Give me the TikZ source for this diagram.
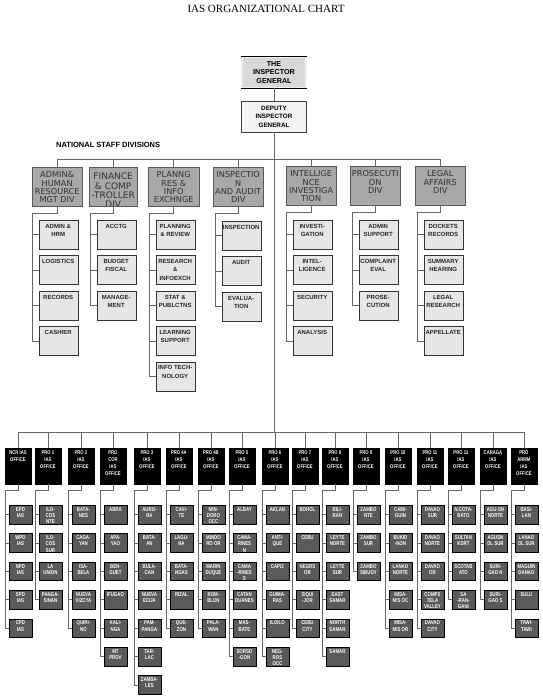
\documentclass[tikz,border=0pt]{standalone}
\usepackage{fontspec}
\setmainfont{Liberation Serif}
\setsansfont{Liberation Sans}
\newfontfamily\divfont{DejaVu Sans}
\newfontfamily\narrowfont[FakeStretch=0.78]{Liberation Sans}
\usepackage{xcolor}
\definecolor{IGFill}{HTML}{D9D9D9}
\definecolor{DeputyFill}{HTML}{F3F3F3}
\definecolor{DivFill}{HTML}{A8A8A8}
\definecolor{SubFill}{HTML}{E6E6E6}
\definecolor{ProvFill}{HTML}{5A5A5A}
\definecolor{LineGray}{HTML}{666666}
\usepackage{tikz}
\usetikzlibrary{positioning}
\hyphenpenalty=10000
\exhyphenpenalty=10000

\begin{document}
\begin{tikzpicture}[
  x=1pt, y=-1pt,
  conn/.style={draw=LineGray, line width=0.7pt},
  toptext/.style n args={3}{
    path picture={
      \node[anchor=north, align=center, inner sep=0pt, font=#1]
        at ([yshift=-#2]path picture bounding box.north) {#3};
    }
  },
  ighead/.style={
    draw=black, line width=0.6pt,
    double=IGFill!45!white, double distance=1.1pt,
    fill=IGFill,
    minimum width=64pt, minimum height=30.5pt,
    align=center, inner sep=0pt,
    font=\sffamily\bfseries\fontsize{7.2}{8.5}\selectfont
  },
  deputy/.style={
    draw=black!75, fill=DeputyFill,
    minimum width=65pt, minimum height=31pt,
    align=center, inner sep=0pt,
    font=\sffamily\bfseries\fontsize{6.3}{8.7}\selectfont
  },
  divbase/.style={
    draw=black!65, fill=DivFill, anchor=north west,
    minimum width=50pt, minimum height=39pt, inner sep=0pt
  },
  divhead/.style={divbase,
    toptext={\divfont\fontsize{8.2}{8.3}\selectfont\color{black!80}}{0.5pt}{#1}},
  bigdivhead/.style={divbase,
    toptext={\divfont\fontsize{9}{9.2}\selectfont\color{black!80}}{3.5pt}{#1}},
  natsub/.style={
    draw=black!80, fill=SubFill, anchor=north west, inner sep=0pt,
    font=\sffamily\bfseries\fontsize{6}{8.2}\selectfont\color{black!85},
    node contents={\parbox[c][29pt][t]{39pt}{\centering\vspace*{4pt}#1}}
  },
  reghead/.style={
    draw=black, fill=black, anchor=north west, inner sep=0pt,
    font=\narrowfont\bfseries\fontsize{5.4}{6.7}\selectfont\color{white},
    node contents={\parbox[c][36pt][t]{25.5pt}{\centering\vspace*{3pt}#1}}
  },
  provbox/.style={
    draw=black, fill=ProvFill, anchor=north west, inner sep=0pt,
    font=\narrowfont\bfseries\fontsize{5.6}{6.2}\selectfont\color{white},
    node contents={\parbox[c][18.5pt][t]{22.5pt}{\centering\vspace*{2.2pt}#1}}
  }
]
\useasboundingbox (0,0) rectangle (542,698);

% =========================================================
% TOP OFFICES
% =========================================================

\node[font=\fontsize{11}{13}\selectfont] (title) at (266,9)
{IAS ORGANIZATIONAL CHART};

\node[ighead] (ig) at (274,72.5)
{THE\\INSPECTOR\\GENERAL};

\node[deputy, below=13pt of ig] (dig)
{DEPUTY\\INSPECTOR\\GENERAL};

\node[anchor=west, inner sep=0pt,
      font=\sffamily\bfseries\fontsize{7.5}{9}\selectfont] (natlabel) at (56,145)
{NATIONAL STAFF DIVISIONS};

\coordinate (divbus) at (274,159);
\coordinate (regbus) at (274,432);

\draw[conn] (ig) -- (dig);
\draw[conn] (dig) -- (divbus);
\draw[conn] (divbus) -- (regbus);

% =========================================================
% NATIONAL STAFF DIVISIONS
% =========================================================

\node[divhead={ADMIN\&\\HUMAN\\RESOURCE\\MGT DIV}] (admin) at (32,167) {};
\node[bigdivhead={FINANCE\\\& COMP\\-TROLLER\\DIV}, minimum width=48pt] (fin) at (89,167) {};
\node[divhead={PLANNG\\RES \&\\INFO\\EXCHNGE}, minimum width=51pt] (plan) at (148,167) {};
\node[divhead={INSPECTIO\\N\\AND AUDIT\\DIV}] (insp) at (213,167) {};
\node[divhead={INTELLIGE\\NCE\\INVESTIGA\\TION}] (intel) at (286,166) {};
\node[divhead={PROSECUTI\\ON\\DIV\\\rule{0pt}{6pt}}] (prosec) at (350,166) {};
\node[divhead={LEGAL\\AFFAIRS\\DIV\\\rule{0pt}{6pt}}] (legal) at (415,166) {};

\draw[conn] (admin.north) -- (admin.north |- divbus)
  -- (legal.north |- divbus) -- (legal.north);
\foreach \dv in {fin,plan,insp,intel,prosec}
  \draw[conn] (\dv.north) -- (\dv.north |- divbus);

% sections under each division
\node (adm1) at (38.5,220) [natsub={ADMIN \&\\HRM}];
\node (adm2) [natsub={LOGISTICS}, below=6pt of adm1];
\node (adm3) [natsub={RECORDS}, below=6pt of adm2];
\node (adm4) [natsub={CASHIER}, below=6pt of adm3];

\node (fin1) at (96.5,220) [natsub={ACCTG}];
\node (fin2) [natsub={BUDGET\\FISCAL}, below=6pt of fin1];
\node (fin3) [natsub={MANAGE-\\MENT}, below=6pt of fin2];

\node (pln1) at (155.5,220) [natsub={PLANNING\\\& REVIEW}];
\node (pln2) [natsub={RESEARCH\\\&\\INFOEXCH}, below=6pt of pln1];
\node (pln3) [natsub={STAT \&\\PUBLCTNS}, below=6pt of pln2];
\node (pln4) [natsub={LEARNING\\SUPPORT}, below=6pt of pln3];
\node (pln5) [natsub={INFO TECH-\\NOLOGY}, below=6pt of pln4];

\node (ins1) at (221.5,221) [natsub={INSPECTION}];
\node (ins2) [natsub={AUDIT}, below=6pt of ins1];
\node (ins3) [natsub={EVALUA-\\TION}, below=6pt of ins2];

\node (int1) at (292.5,220) [natsub={INVESTI-\\GATION}];
\node (int2) [natsub={INTEL-\\LIGENCE}, below=6pt of int1];
\node (int3) [natsub={SECURITY}, below=6pt of int2];
\node (int4) [natsub={ANALYSIS}, below=6pt of int3];

\node (pros1) at (358.5,220) [natsub={ADMIN\\SUPPORT}];
\node (pros2) [natsub={COMPLAINT\\EVAL}, below=6pt of pros1];
\node (pros3) [natsub={PROSE-\\CUTION}, below=6pt of pros2];

\node (leg1) at (423.5,220) [natsub={DOCKETS\\RECORDS}];
\node (leg2) [natsub={SUMMARY\\HEARING}, below=6pt of leg1];
\node (leg3) [natsub={LEGAL\\RESEARCH}, below=6pt of leg2];
\node (leg4) [natsub={APPELLATE}, below=6pt of leg3];

\draw[conn] (admin.south) -- ++(0,7) -| ([xshift=-6.5pt]adm4.west) -- (adm4.west);
\foreach \k in {1,2,3} \draw[conn] (adm\k.west) -- ++(-6.5,0);
\draw[conn] (fin.south) -- ++(0,7) -| ([xshift=-6.5pt]fin3.west) -- (fin3.west);
\foreach \k in {1,2} \draw[conn] (fin\k.west) -- ++(-6.5,0);
\draw[conn] (plan.south) -- ++(0,7) -| ([xshift=-6.5pt]pln5.west) -- (pln5.west);
\foreach \k in {1,2,3,4} \draw[conn] (pln\k.west) -- ++(-6.5,0);
\draw[conn] (insp.south) -- ++(0,7) -| ([xshift=-6.5pt]ins3.west) -- (ins3.west);
\foreach \k in {1,2} \draw[conn] (ins\k.west) -- ++(-6.5,0);
\draw[conn] (intel.south) -- ++(0,7) -| ([xshift=-6.5pt]int4.west) -- (int4.west);
\foreach \k in {1,2,3} \draw[conn] (int\k.west) -- ++(-6.5,0);
\draw[conn] (prosec.south) -- ++(0,7) -| ([xshift=-6.5pt]pros3.west) -- (pros3.west);
\foreach \k in {1,2} \draw[conn] (pros\k.west) -- ++(-6.5,0);
\draw[conn] (legal.south) -- ++(0,7) -| ([xshift=-6.5pt]leg4.west) -- (leg4.west);
\foreach \k in {1,2,3} \draw[conn] (leg\k.west) -- ++(-6.5,0);

% =========================================================
% REGIONAL IAS OFFICES
% =========================================================

\node (ncr) at (5,448) [reghead={NCR IAS\\OFFICE}];
\node (p1) at (35,448) [reghead={PRO 1\\IAS\\OFFICE}];
\node (p2) at (68,448) [reghead={PRO 2\\IAS\\OFFICE}];
\node (cor) at (100,448) [reghead={PRO\\COR\\IAS\\OFFICE}];
\node (p3) at (134,448) [reghead={PRO 3\\IAS\\OFFICE}];
\node (p4a) at (166,448) [reghead={PRO 4A\\IAS\\OFFICE}];
\node (p4b) at (198,448) [reghead={PRO 4B\\IAS\\OFFICE}];
\node (p5) at (229,448) [reghead={PRO 5\\IAS\\OFFICE}];
\node (p6) at (262,448) [reghead={PRO 6\\IAS\\OFFICE}];
\node (p7) at (292,448) [reghead={PRO 7\\IAS\\OFFICE}];
\node (p8) at (322,448) [reghead={PRO 8\\IAS\\OFFICE}];
\node (p9) at (353,448) [reghead={PRO 9\\IAS\\OFFICE}];
\node (p10) at (385,448) [reghead={PRO 10\\IAS\\OFFICE}];
\node (p11) at (417,448) [reghead={PRO 11\\IAS\\OFFICE}];
\node (p12) at (448,448) [reghead={PRO 12\\IAS\\OFFICE}];
\node (car) at (480,448) [reghead={CARAGA\\IAS\\OFFICE}];
\node (armm) at (511,448) [reghead={PRO\\ARMM\\IAS\\OFFICE}];

\foreach \rg in {ncr,p1,p2,cor,p3,p4a,p4b,p5,p6,p7,p8,p9,p10,p11,p12,car,armm}
  \draw[conn] (\rg.north) -- (\rg.north |- regbus);
\draw[conn] (ncr.north |- regbus) -- (armm.north |- regbus);

% provincial offices
\node (ncr-1) at (9,505) [provbox={EPD\\IAS}];
\node (ncr-2) [provbox={WPD\\IAS}, below=9.5pt of ncr-1];
\node (ncr-3) [provbox={NPD\\IAS}, below=9.5pt of ncr-2];
\node (ncr-4) [provbox={SPD\\IAS}, below=9.5pt of ncr-3];
\node (ncr-5) [provbox={CPD\\IAS}, below=9.5pt of ncr-4];

\node (p1-1) at (39,505) [provbox={ILO-\\COS\\NTE}];
\node (p1-2) [provbox={ILO-\\COS\\SUR}, below=9.5pt of p1-1];
\node (p1-3) [provbox={LA\\UNION}, below=9.5pt of p1-2];
\node (p1-4) [provbox={PANGA-\\SINAN}, below=9.5pt of p1-3];

\node (p2-1) at (72,505) [provbox={BATA-\\NES}];
\node (p2-2) [provbox={CAGA-\\YAN}, below=9.5pt of p2-1];
\node (p2-3) [provbox={ISA-\\BELA}, below=9.5pt of p2-2];
\node (p2-4) [provbox={NUEVA\\VIZCYA}, below=9.5pt of p2-3];
\node (p2-5) [provbox={QUIRI-\\NO}, below=9.5pt of p2-4];

\node (cor-1) at (104,505) [provbox={ABRA}];
\node (cor-2) [provbox={APA-\\YAO}, below=9.5pt of cor-1];
\node (cor-3) [provbox={BEN-\\GUET}, below=9.5pt of cor-2];
\node (cor-4) [provbox={IFUGAO}, below=9.5pt of cor-3];
\node (cor-5) [provbox={KALI-\\NGA}, below=9.5pt of cor-4];
\node (cor-6) [provbox={MT\\PROV}, below=9.5pt of cor-5];

\node (p3-1) at (138,505) [provbox={AURO-\\RA}];
\node (p3-2) [provbox={BATA-\\AN}, below=9.5pt of p3-1];
\node (p3-3) [provbox={BULA-\\CAN}, below=9.5pt of p3-2];
\node (p3-4) [provbox={NUEVA\\ECIJA}, below=9.5pt of p3-3];
\node (p3-5) [provbox={PAM-\\PANGA}, below=9.5pt of p3-4];
\node (p3-6) [provbox={TAR-\\LAC}, below=9.5pt of p3-5];
\node (p3-7) [provbox={ZAMBA-\\LES}, below=9.5pt of p3-6];

\node (p4a-1) at (170,505) [provbox={CAVI-\\TE}];
\node (p4a-2) [provbox={LAGU-\\NA}, below=9.5pt of p4a-1];
\node (p4a-3) [provbox={BATA-\\NGAS}, below=9.5pt of p4a-2];
\node (p4a-4) [provbox={RIZAL}, below=9.5pt of p4a-3];
\node (p4a-5) [provbox={QUE-\\ZON}, below=9.5pt of p4a-4];

\node (p4b-1) at (202,505) [provbox={MIN-\\DORO\\OCC}];
\node (p4b-2) [provbox={MINDO\\RO OR}, below=9.5pt of p4b-1];
\node (p4b-3) [provbox={MARIN\\DUQUE}, below=9.5pt of p4b-2];
\node (p4b-4) [provbox={ROM-\\BLON}, below=9.5pt of p4b-3];
\node (p4b-5) [provbox={PALA-\\WAN}, below=9.5pt of p4b-4];

\node (p5-1) at (233,505) [provbox={ALBAY}];
\node (p5-2) [provbox={CAMA-\\RINES\\N}, below=9.5pt of p5-1];
\node (p5-3) [provbox={CAMA\\-RINES\\S}, below=9.5pt of p5-2];
\node (p5-4) [provbox={CATAN\\DUANES}, below=9.5pt of p5-3];
\node (p5-5) [provbox={MAS-\\BATE}, below=9.5pt of p5-4];
\node (p5-6) [provbox={SORSO\\-GON}, below=9.5pt of p5-5];

\node (p6-1) at (266,505) [provbox={AKLAN}];
\node (p6-2) [provbox={ANTI-\\QUE}, below=9.5pt of p6-1];
\node (p6-3) [provbox={CAPIZ}, below=9.5pt of p6-2];
\node (p6-4) [provbox={GUIMA-\\RAS}, below=9.5pt of p6-3];
\node (p6-5) [provbox={ILOILO}, below=9.5pt of p6-4];
\node (p6-6) [provbox={NEG-\\ROS\\OCC}, below=9.5pt of p6-5];

\node (p7-1) at (296,505) [provbox={BOHOL}];
\node (p7-2) [provbox={CEBU}, below=9.5pt of p7-1];
\node (p7-3) [provbox={NEGRS\\OR}, below=9.5pt of p7-2];
\node (p7-4) [provbox={SIQUI\\-JOR}, below=9.5pt of p7-3];
\node (p7-5) [provbox={CEBU\\CITY}, below=9.5pt of p7-4];

\node (p8-1) at (326,505) [provbox={BILI-\\RAN}];
\node (p8-2) [provbox={LEYTE\\NORTE}, below=9.5pt of p8-1];
\node (p8-3) [provbox={LEYTE\\SUR}, below=9.5pt of p8-2];
\node (p8-4) [provbox={EAST\\SAMAR}, below=9.5pt of p8-3];
\node (p8-5) [provbox={NORTH\\SAMAR}, below=9.5pt of p8-4];
\node (p8-6) [provbox={SAMAR}, below=9.5pt of p8-5];

\node (p9-1) at (357,505) [provbox={ZAMBO\\NTE}];
\node (p9-2) [provbox={ZAMBO\\SUR}, below=9.5pt of p9-1];
\node (p9-3) [provbox={ZAMBO\\SIBUGY}, below=9.5pt of p9-2];

\node (p10-1) at (389,505) [provbox={CAMI-\\GUIN}];
\node (p10-2) [provbox={BUKID\\-NON}, below=9.5pt of p10-1];
\node (p10-3) [provbox={LANAO\\NORTE}, below=9.5pt of p10-2];
\node (p10-4) [provbox={MISA-\\MIS OC}, below=9.5pt of p10-3];
\node (p10-5) [provbox={MISA-\\MIS OR}, below=9.5pt of p10-4];

\node (p11-1) at (421,505) [provbox={DAVAO\\SUR}];
\node (p11-2) [provbox={DAVAO\\NORTE}, below=9.5pt of p11-1];
\node (p11-3) [provbox={DAVAO\\OR}, below=9.5pt of p11-2];
\node (p11-4) [provbox={COMPS\\TELA\\VALLEY}, below=9.5pt of p11-3];
\node (p11-5) [provbox={DAVAO\\CITY}, below=9.5pt of p11-4];

\node (p12-1) at (452,505) [provbox={N.COTA-\\BATO}];
\node (p12-2) [provbox={SULTAN\\KDRT}, below=9.5pt of p12-1];
\node (p12-3) [provbox={SCOTAB\\ATO}, below=9.5pt of p12-2];
\node (p12-4) [provbox={SA\\-RAN-\\GANI}, below=9.5pt of p12-3];

\node (car-1) at (484,505) [provbox={AGU-SN\\NORTE}];
\node (car-2) [provbox={AGUSN\\DL SUR}, below=9.5pt of car-1];
\node (car-3) [provbox={SURI-\\GAO N}, below=9.5pt of car-2];
\node (car-4) [provbox={SURI-\\GAO S}, below=9.5pt of car-3];

\node (armm-1) at (515,505) [provbox={BASI-\\LAN}];
\node (armm-2) [provbox={LANAO\\DL SUR}, below=9.5pt of armm-1];
\node (armm-3) [provbox={MAGUIN\\DANAO}, below=9.5pt of armm-2];
\node (armm-4) [provbox={SULU}, below=9.5pt of armm-3];
\node (armm-5) [provbox={TAWI-\\TAWI}, below=9.5pt of armm-4];

% stems and ties to each province
\draw[conn] (ncr.south) -- ++(0,6) -| ([xshift=-4pt]ncr-5.west) -- (ncr-5.west);
\foreach \k in {1,2,3,4} \draw[conn] (ncr-\k.west) -- ++(-4,0);
\draw[conn] (p1.south) -- ++(0,6) -| ([xshift=-4pt]p1-4.west) -- (p1-4.west);
\foreach \k in {1,2,3} \draw[conn] (p1-\k.west) -- ++(-4,0);
\draw[conn] (p2.south) -- ++(0,6) -| ([xshift=-4pt]p2-5.west) -- (p2-5.west);
\foreach \k in {1,2,3,4} \draw[conn] (p2-\k.west) -- ++(-4,0);
\draw[conn] (cor.south) -- ++(0,6) -| ([xshift=-4pt]cor-6.west) -- (cor-6.west);
\foreach \k in {1,2,3,4,5} \draw[conn] (cor-\k.west) -- ++(-4,0);
\draw[conn] (p3.south) -- ++(0,6) -| ([xshift=-4pt]p3-7.west) -- (p3-7.west);
\foreach \k in {1,2,3,4,5,6} \draw[conn] (p3-\k.west) -- ++(-4,0);
\draw[conn] (p4a.south) -- ++(0,6) -| ([xshift=-4pt]p4a-5.west) -- (p4a-5.west);
\foreach \k in {1,2,3,4} \draw[conn] (p4a-\k.west) -- ++(-4,0);
\draw[conn] (p4b.south) -- ++(0,6) -| ([xshift=-4pt]p4b-5.west) -- (p4b-5.west);
\foreach \k in {1,2,3,4} \draw[conn] (p4b-\k.west) -- ++(-4,0);
\draw[conn] (p5.south) -- ++(0,6) -| ([xshift=-4pt]p5-6.west) -- (p5-6.west);
\foreach \k in {1,2,3,4,5} \draw[conn] (p5-\k.west) -- ++(-4,0);
\draw[conn] (p6.south) -- ++(0,6) -| ([xshift=-4pt]p6-6.west) -- (p6-6.west);
\foreach \k in {1,2,3,4,5} \draw[conn] (p6-\k.west) -- ++(-4,0);
\draw[conn] (p7.south) -- ++(0,6) -| ([xshift=-4pt]p7-5.west) -- (p7-5.west);
\foreach \k in {1,2,3,4} \draw[conn] (p7-\k.west) -- ++(-4,0);
\draw[conn] (p8.south) -- ++(0,6) -| ([xshift=-4pt]p8-6.west) -- (p8-6.west);
\foreach \k in {1,2,3,4,5} \draw[conn] (p8-\k.west) -- ++(-4,0);
\draw[conn] (p9.south) -- ++(0,6) -| ([xshift=-4pt]p9-3.west) -- (p9-3.west);
\foreach \k in {1,2} \draw[conn] (p9-\k.west) -- ++(-4,0);
\draw[conn] (p10.south) -- ++(0,6) -| ([xshift=-4pt]p10-5.west) -- (p10-5.west);
\foreach \k in {1,2,3,4} \draw[conn] (p10-\k.west) -- ++(-4,0);
\draw[conn] (p11.south) -- ++(0,6) -| ([xshift=-4pt]p11-5.west) -- (p11-5.west);
\foreach \k in {1,2,3,4} \draw[conn] (p11-\k.west) -- ++(-4,0);
\draw[conn] (p12.south) -- ++(0,6) -| ([xshift=-4pt]p12-4.west) -- (p12-4.west);
\foreach \k in {1,2,3} \draw[conn] (p12-\k.west) -- ++(-4,0);
\draw[conn] (car.south) -- ++(0,6) -| ([xshift=-4pt]car-4.west) -- (car-4.west);
\foreach \k in {1,2,3} \draw[conn] (car-\k.west) -- ++(-4,0);
\draw[conn] (armm.south) -- ++(0,6) -| ([xshift=-4pt]armm-5.west) -- (armm-5.west);
\foreach \k in {1,2,3,4} \draw[conn] (armm-\k.west) -- ++(-4,0);

\end{tikzpicture}
\end{document}
